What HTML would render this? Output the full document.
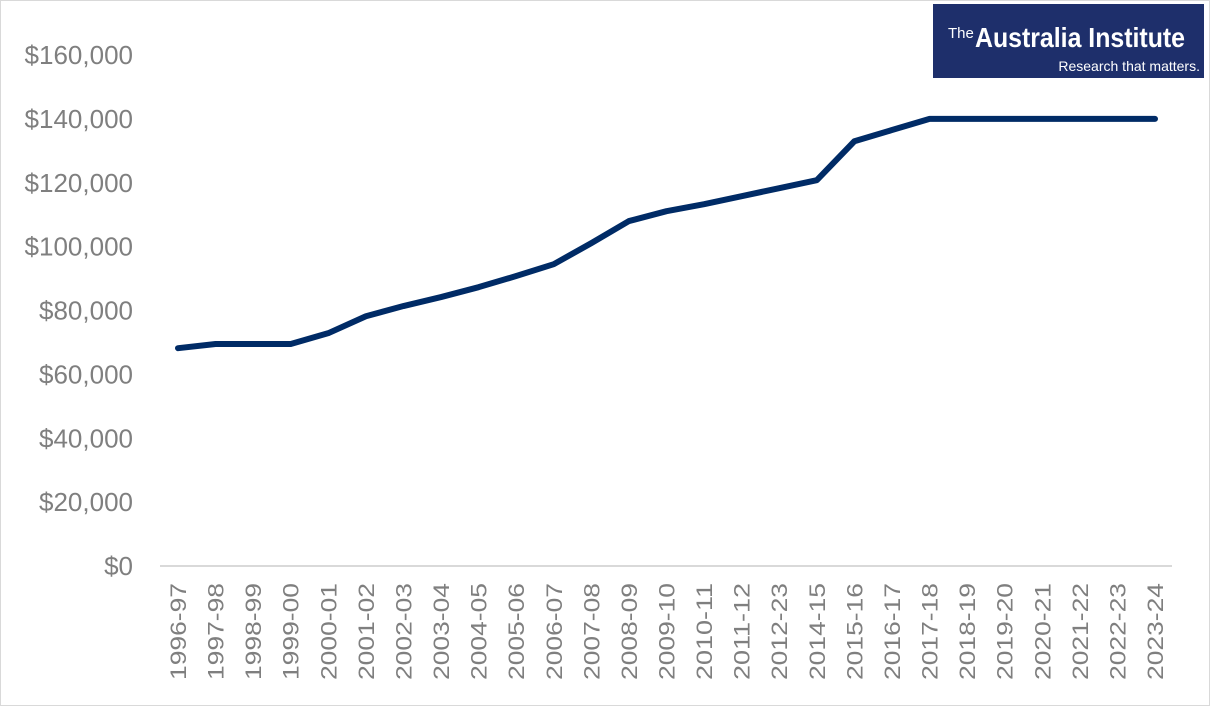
<!DOCTYPE html>
<html><head><meta charset="utf-8">
<style>
html,body{margin:0;padding:0;background:#fff;}
body{width:1210px;height:706px;overflow:hidden;font-family:"Liberation Sans",sans-serif;}
#frame{position:absolute;left:0;top:0;width:1208px;height:704px;border:1px solid #d9d9d9;}
</style></head>
<body>
<div id="frame"></div>
<svg id="chart" width="1210" height="706" style="position:absolute;left:0;top:0"></svg>
<script>
const categories=["1996-97","1997-98","1998-99","1999-00","2000-01","2001-02","2002-03","2003-04","2004-05","2005-06","2006-07","2007-08","2008-09","2009-10","2010-11","2011-12","2012-23","2014-15","2015-16","2016-17","2017-18","2018-19","2019-20","2020-21","2021-22","2022-23","2023-24"];
const values=[68200,69500,69500,69500,72900,78200,81400,84200,87300,90800,94500,101100,108000,111100,113300,115800,118300,120800,133000,136500,140000,140000,140000,140000,140000,140000,140000];
const yTicks=[0,20000,40000,60000,80000,100000,120000,140000,160000];
const yTickLabels=["$0","$20,000","$40,000","$60,000","$80,000","$100,000","$120,000","$140,000","$160,000"];

const NS="http://www.w3.org/2000/svg";
const svg=document.getElementById('chart');
const y0=566, yTop=55, yMax=160000;
const xFirst=178, xLast=1155;
function yScale(v){return y0-(v/yMax)*(y0-yTop);}
function xScale(i){return xFirst+i*(xLast-xFirst)/(categories.length-1);}
function mk(tag,attrs){const e=document.createElementNS(NS,tag);for(const k in attrs)e.setAttribute(k,attrs[k]);svg.appendChild(e);return e;}

const axis=mk('line',{x1:160,x2:1172,y1:y0,y2:y0,stroke:'#d9d9d9','stroke-width':2});



yTicks.forEach((t,i)=>{
  const tx=mk('text',{x:133,y:yScale(t)+9,'text-anchor':'end','font-size':26,fill:'#7f7f7f','font-family':'Liberation Sans, sans-serif'});
  tx.textContent=yTickLabels[i];
  
  
});

categories.forEach((c,i)=>{
  const x=xScale(i)+8, y=583;
  const tx=mk('text',{x:x,y:y,'text-anchor':'end','font-size':22,fill:'#7f7f7f','font-family':'Liberation Sans, sans-serif',textLength:97,lengthAdjust:'spacingAndGlyphs',transform:`rotate(-90 ${x} ${y})`});
  tx.textContent=c;
  
  
});

const pts=values.map((v,i)=>xScale(i)+','+yScale(v)).join(' ');
const line=mk('polyline',{points:pts,fill:'none',stroke:'#002b66','stroke-width':6,'stroke-linejoin':'round','stroke-linecap':'round'});



const logo=mk('rect',{x:933,y:4,width:271,height:74,fill:'#1e2f6b'});


const t1=mk('text',{x:948,y:38,'font-size':15,fill:'#fff','font-family':'Liberation Sans, sans-serif'});
t1.textContent='The';


const t2=mk('text',{x:975,y:47,'font-size':28,fill:'#fff','font-weight':'600','font-family':'Liberation Sans, sans-serif',textLength:210,lengthAdjust:'spacingAndGlyphs'});
t2.textContent='Australia Institute';


const t3=mk('text',{x:1200,y:71,'text-anchor':'end','font-size':14,fill:'#fff','font-family':'Liberation Sans, sans-serif'});
t3.textContent='Research that matters.';


</script>
</body></html>
